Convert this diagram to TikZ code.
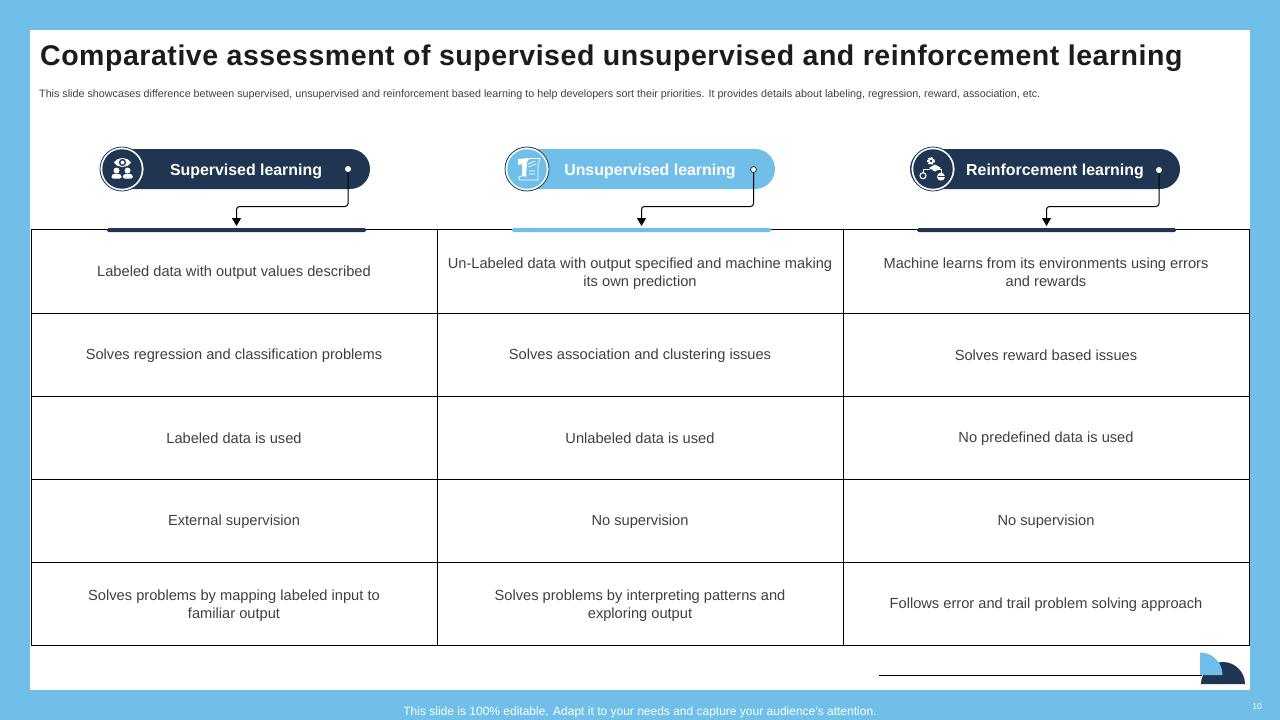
\documentclass[tikz,border=0pt]{standalone}
\usepackage{fontspec}
\setmainfont{Liberation Sans}
\newfontfamily\titlefont[LetterSpace=1.9]{Liberation Sans}
\definecolor{sky}{HTML}{6FBFE8}
\definecolor{navy}{HTML}{1F3552}
\definecolor{bodytxt}{HTML}{404040}
\definecolor{titletxt}{HTML}{1C1C1C}
\newcommand{\cellstrut}{\rule[-1.8pt]{0pt}{15.2pt}}
\tikzset{
  cell/.style={draw=black,line width=0.9pt,minimum width=406pt,minimum height=83pt,inner sep=0pt,outer sep=0pt,align=center,text=bodytxt,font=\fontsize{14.65}{18}\selectfont,execute at begin node=\cellstrut,execute at end node=\cellstrut},
  twotxt/.style={inner sep=0pt,outer sep=0pt,align=center,text=bodytxt,yshift=-2pt,font=\fontsize{14.65}{18}\selectfont,execute at begin node=\cellstrut,execute at end node=\cellstrut},
  pill/.style={rounded corners=20pt,minimum width=270pt,minimum height=40pt,inner sep=0pt,outer sep=0pt},
  pilltxt/.style={text=white,inner sep=0pt,anchor=base,font=\fontsize{15.9}{20}\selectfont\bfseries},
  topbar/.style={rounded corners=1.5pt,minimum width=259pt,minimum height=4pt,inner sep=0pt,outer sep=0pt},
  dotn/.style={circle,fill=white,minimum size=6pt,inner sep=0pt,outer sep=0pt},
  conn/.style={draw=black,line width=1pt,rounded corners=3pt,shorten >=2pt,-{Triangle[length=8pt,width=9pt]}},
  iconring/.style={circle,fill=white,draw=navy,line width=0.8pt,minimum size=44pt,inner sep=0pt},
  icondisc/.style={circle,minimum size=39.5pt,inner sep=0pt},
}
\usetikzlibrary{arrows.meta}
\begin{document}
\begin{tikzpicture}[x=1pt,y=-1pt]
\useasboundingbox (0,0) rectangle (1280,720);
\fill[sky] (0,0) rectangle (1280,720);
\fill[white] (30,30) rectangle (1250,690);
\node[anchor=base west,inner sep=0pt,text=titletxt,font=\fontsize{28.5}{36}\selectfont\titlefont\bfseries] (title) at (40,65) {Comparative assessment of supervised unsupervised and reinforcement learning};
\node[anchor=base west,inner sep=0pt,text=bodytxt,font=\fontsize{10.75}{12}\selectfont] (sub) at (39,97) {This slide showcases difference between supervised, unsupervised and reinforcement based learning to help developers sort their priorities. It provides details about labeling, regression, reward, association, etc.};
% table
\node[cell,minimum height=83.5pt] (a1) at (234,271.25) {Labeled data with output values described};
\node[cell,minimum height=83.5pt] (b1) at (640,271.25) {};
\node[twotxt] (b1t) at (b1.center) {Un-Labeled data with output specified and machine making\\its own prediction};
\node[cell,minimum height=83.5pt] (c1) at (1046,271.25) {};
\node[twotxt] (c1t) at (c1.center) {Machine learns from its environments using errors\\and rewards};
\node[cell] (a2) at (234,354.5) {Solves regression and classification problems};
\node[cell] (b2) at (640,354.5) {Solves association and clustering issues};
\node[cell] (c2) at (1046,354.5) {Solves reward based issues};
\node[cell] (a3) at (234,437.5) {Labeled data is used};
\node[cell] (b3) at (640,437.5) {Unlabeled data is used};
\node[cell] (c3) at (1046,437.5) {No predefined data is used};
\node[cell] (a4) at (234,520.5) {External supervision};
\node[cell] (b4) at (640,520.5) {No supervision};
\node[cell] (c4) at (1046,520.5) {No supervision};
\node[cell] (a5) at (234,603.5) {};
\node[twotxt] (a5t) at (a5.center) {Solves problems by mapping labeled input to\\familiar output};
\node[cell] (b5) at (640,603.5) {};
\node[twotxt] (b5t) at (b5.center) {Solves problems by interpreting patterns and\\exploring output};
\node[cell] (c5) at (1046,603.5) {Follows error and trail problem solving approach};
% top bars
\node[topbar,fill=navy] (bar1) at (236.5,230) {};
\node[topbar,fill=sky] (bar2) at (641.5,230) {};
\node[topbar,fill=navy] (bar3) at (1046.5,230) {};
% pills
\node[pill,fill=navy] (p1) at (235,169) {};
\node[pill,fill=sky] (p2) at (640,169) {};
\node[pill,fill=navy] (p3) at (1045,169) {};
\node[pilltxt] (t1) at (246,175) {Supervised learning};
\node[pilltxt] (t2) at (650,175) {Unsupervised learning};
\node[pilltxt] (t3) at (1055,175) {Reinforcement learning};
% icon discs
\node[iconring] (i1) at (122,169) {};
\node[icondisc,fill=navy] (i1b) at (122,169) {};
\node[iconring] (i2) at (527,169) {};
\node[icondisc,fill=sky] (i2b) at (527,169) {};
\node[iconring] (i3) at (933,169) {};
\node[icondisc,fill=navy] (i3b) at (933,169) {};
% icon 1: eye and two people
\fill[white] (114,162.5) .. controls (118,156.5) and (127,156.5) .. (131,162.5) .. controls (127,168.5) and (118,168.5) .. (114,162.5) -- cycle;
\fill[navy] (122.5,162.5) circle[radius=3.6pt];
\fill[white] (122.5,162.5) circle[radius=2pt];
\fill[white] (116.5,170.5) circle[radius=3pt];
\fill[white] (127.5,170.5) circle[radius=3pt];
\fill[white,rounded corners=1.5pt] (111.5,178.5) -- (111.5,175) -- (114,173.8) -- (119,173.8) -- (121.5,175) -- (121.5,178.5) -- cycle;
\fill[white,rounded corners=1.5pt] (122.8,178.5) -- (122.8,175) -- (125.3,173.8) -- (130.3,173.8) -- (132.8,175) -- (132.8,178.5) -- cycle;
% icon 2: scroll
\fill[white] (518,159) -- (530,158) -- (527,162) -- (526,176) -- (522,176) -- (522,164) -- (518,165) -- cycle;
\draw[white,line width=0.8pt] (526,158.5) -- (540,158.5) -- (538,165) -- (538,180) -- (521,180) .. controls (518,180) and (518,176) .. (521,176) -- (527,176);
\draw[white,line width=0.7pt] (528,164) -- (535,161) (528,167) -- (536,164) (529,171) -- (535,171) (529,174) -- (535,174);
% icon 3: gear network
\draw[white,line width=0.8pt] (923,172.5) -- (923,169) -- (930,169) (941,172.5) -- (941,169) -- (938,169);
\node[circle,draw=white,line width=1.8pt,densely dotted,fill=white,minimum size=6pt,inner sep=0pt] (g1) at (931,161) {};
\fill[navy] (931,161) circle[radius=1.3pt];
\fill[white] (929,168) -- (935,164.5) -- (941,168) -- (935,171.5) -- cycle;
\draw[white,line width=1.1pt] (923,175.7) circle[radius=3pt];
\fill[white] (941,176.7) circle[radius=4pt];
\draw[navy,line width=0.5pt] (937.5,176.7) -- (944.5,176.7);
% connectors
\node[dotn] (d1) at (348,169) {};
\node[dotn,draw=navy,line width=0.8pt] (d2) at (753.5,169.5) {};
\node[dotn] (d3) at (1159,170) {};
\coordinate (m1) at (236.5,206.5);
\coordinate (m2) at (641.5,206.5);
\coordinate (m3) at (1046.5,206.5);
\draw[conn] (d1.south) -- (d1.south |- m1) -- (m1) -- (bar1.north);
\draw[conn] (d2.south) -- (d2.south |- m2) -- (m2) -- (bar2.north);
\draw[conn] (d3.south) -- (d3.south |- m3) -- (m3) -- (bar3.north);
% corner decoration
\coordinate (l1) at (879,675);
\coordinate (l2) at (1202,675);
\draw[black,line width=1pt] (l1) -- (l2);
\fill[navy] (1201,684) .. controls (1201,672) and (1211,662) .. (1223,662) .. controls (1235,662) and (1245,672) .. (1245,684) -- cycle;
\fill[sky] (1200,675) -- (1200,652.5) .. controls (1212.4,652.5) and (1222.5,662.6) .. (1222.5,675) -- cycle;
% footer
\node[anchor=base,inner sep=0pt,text=white,font=\fontsize{12}{14}\selectfont] (foot) at (640,715.5) {This slide is 100\% editable. Adapt it to your needs and capture your audience's attention.};
\node[anchor=base,inner sep=0pt,text=white,font=\fontsize{8.5}{10}\selectfont] (num) at (1257,709.5) {10};
\end{tikzpicture}
\end{document}
